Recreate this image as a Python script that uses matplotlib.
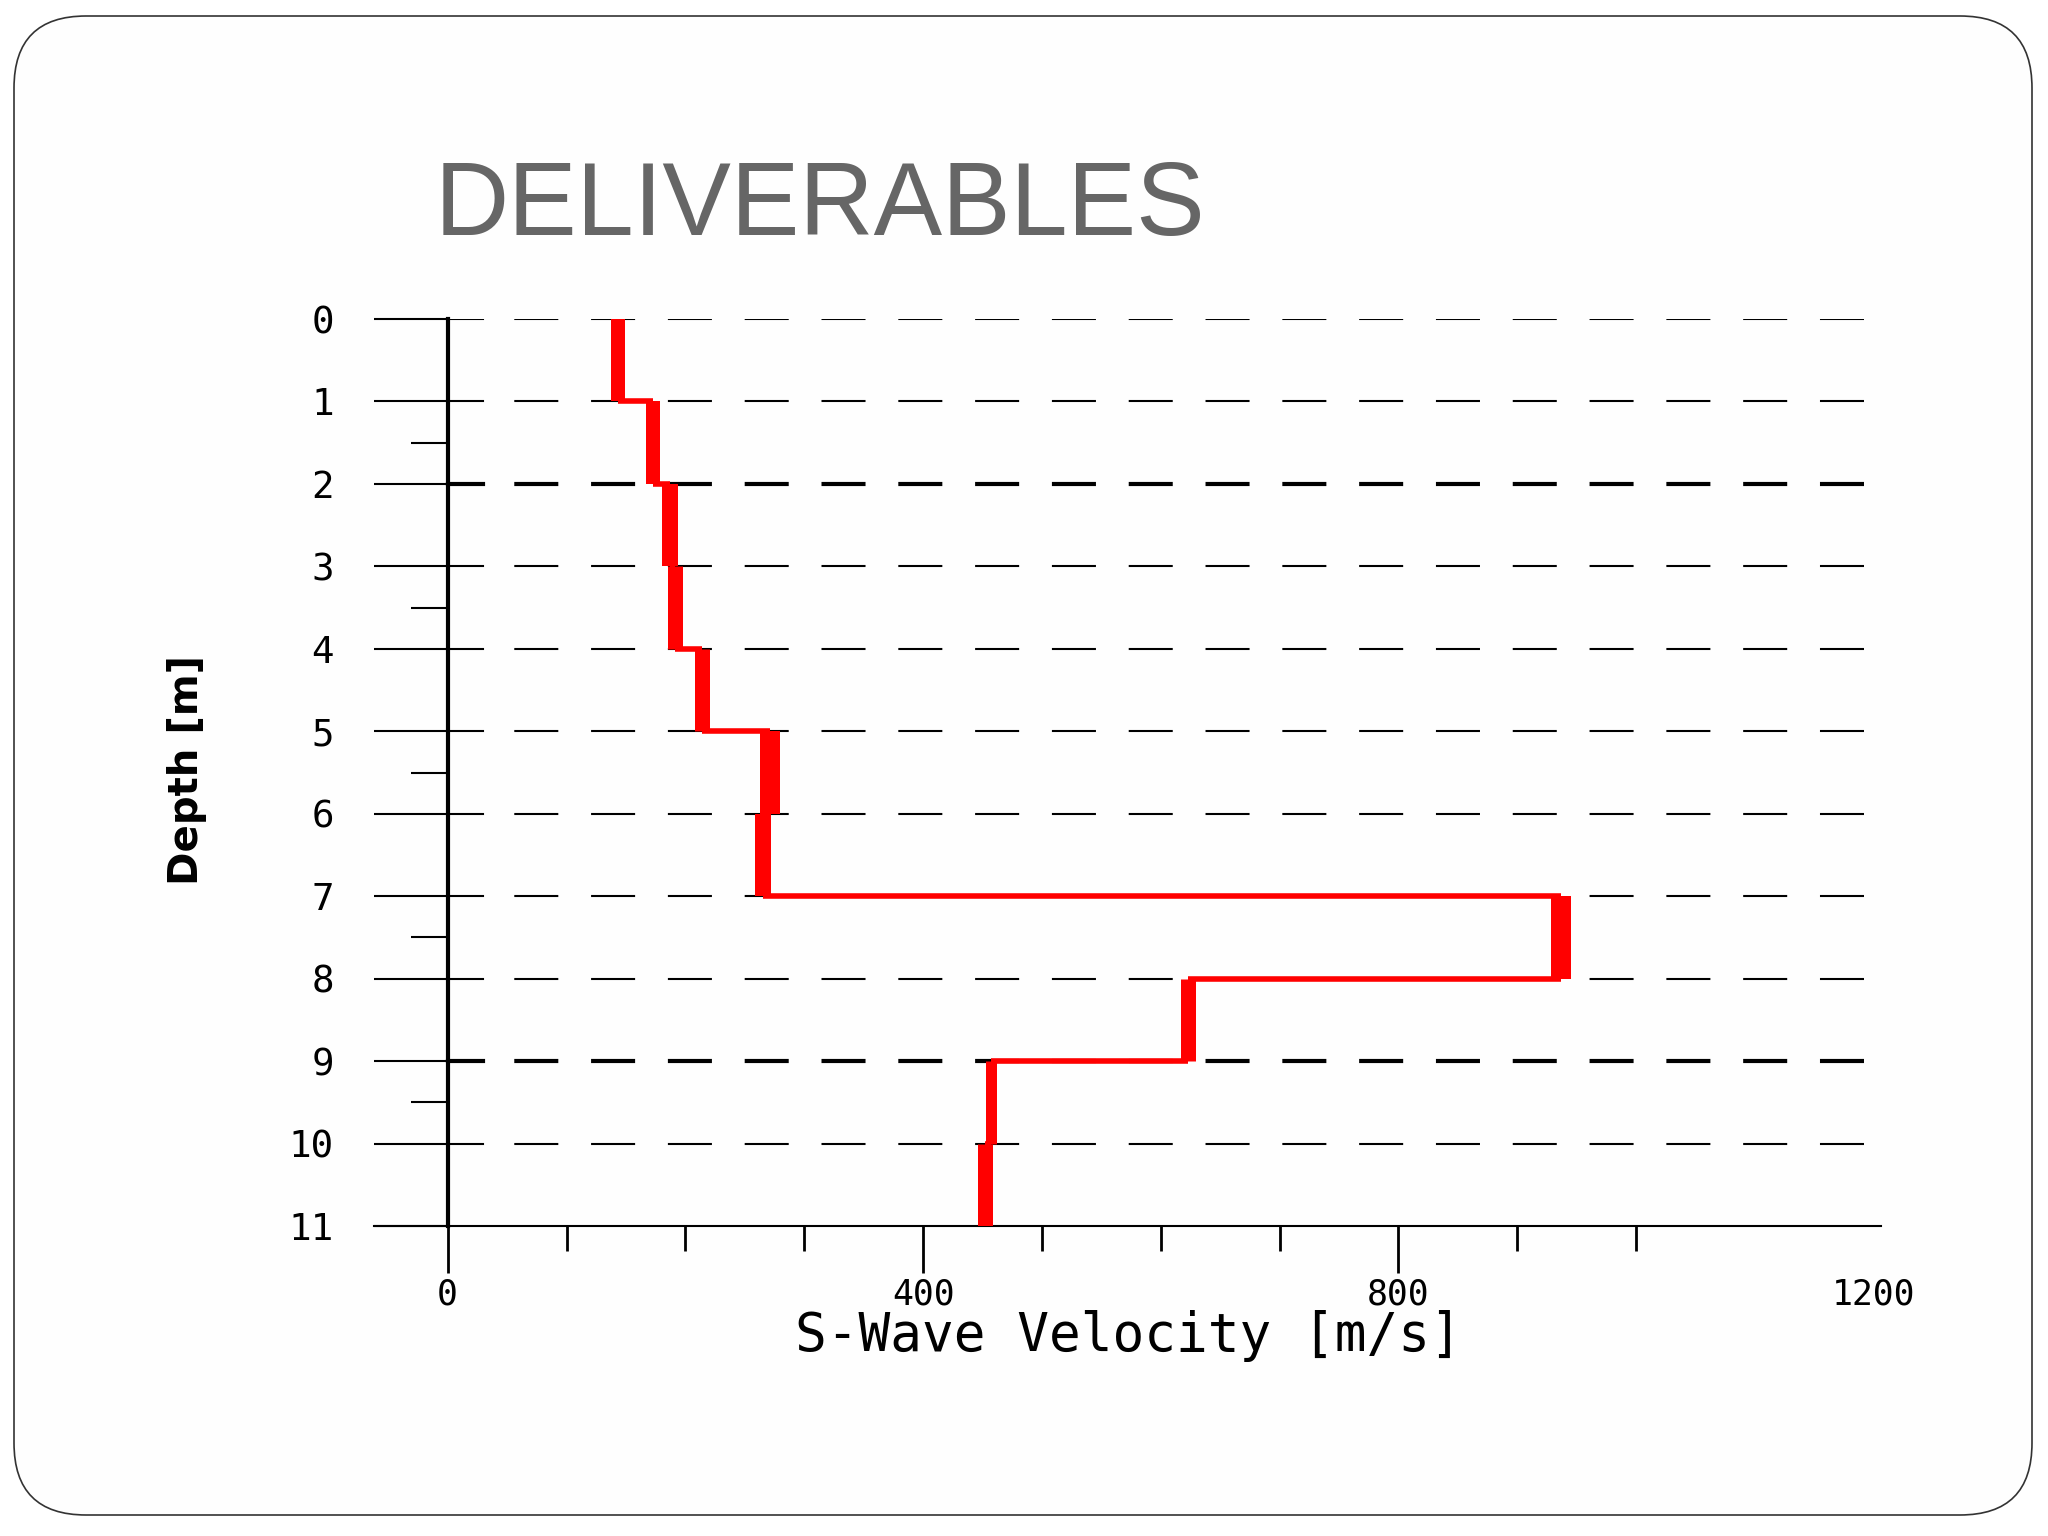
import matplotlib.pyplot as plt
from matplotlib.patches import FancyBboxPatch

# layer data: depth tops / bottoms [m] and S-wave velocity [m/s]
layer_top = [0, 1, 2, 3, 4, 5, 6, 7, 8, 9, 10]
layer_bottom = [1, 2, 3, 4, 5, 6, 7, 8, 9, 10, 11]
vs = [143, 173, 187, 191, 214, 271, 265, 937, 623, 457, 452]
# drawn thickness of each layer's vertical bar (px)
bar_px = [14, 14, 16, 15, 15, 20, 16, 20, 15, 11, 15]

depth_ticks = list(range(0, 12))
depth_minor = [1.5, 3.5, 5.5, 7.5, 9.5]
vel_ticks = [0, 400, 800, 1200]
vel_minor = [100, 200, 300, 500, 600, 700, 900, 1000]
bold_grid = [2, 9]

title = 'DELIVERABLES'
xlabel = 'S-Wave Velocity [m/s]'
ylabel = 'Depth [m]'

W, H = 2048, 1536
fig = plt.figure(figsize=(W / 100, H / 100), dpi=100)
fig.patch.set_facecolor('white')

# slide frame with rounded corners
bg = fig.add_axes([0, 0, 1, 1])
bg.set_xlim(0, W)
bg.set_ylim(H, 0)
bg.axis('off')
bg.add_patch(FancyBboxPatch((14, 16), 2018, 1499,
                            boxstyle='round,pad=0,rounding_size=72',
                            fc='#fefefe', ec='#333333', lw=1.2))

fig.text(435 / W, 1 - 235 / H, title, fontsize=74, color='#666666',
         family=['Liberation Sans', 'DejaVu Sans'], ha='left', va='baseline')

# plot area (px -> figure fraction)
left, right, top, bottom = 374, 1881, 319, 1226
ax = fig.add_axes([left / W, 1 - bottom / H, (right - left) / W, (bottom - top) / H])
ax.patch.set_alpha(0)
ax.set_xlim(-62, 1206)
ax.set_ylim(11, 0)

for s in ['top', 'right']:
    ax.spines[s].set_visible(False)
ax.spines['left'].set_position(('data', 0))
ax.spines['left'].set_linewidth(3)
ax.spines['bottom'].set_linewidth(1.5)

# dashed depth grid, pattern anchored at the right end
for d in depth_ticks[:-1]:
    lw = 3 if d in bold_grid else 1.5
    ax.plot([1192, 30], [d, d], color='black', lw=lw,
            dashes=(31.7 / lw, 23.6 / lw), zorder=1)
    # solid stub of each depth line right of the axis
    ax.plot([0, 30], [d, d], color='black', lw=lw, zorder=1)

ax.set_yticks(depth_ticks)
ax.set_yticks(depth_minor, minor=True)
ax.set_xticks(vel_ticks)
ax.set_xticks(vel_minor, minor=True)
ax.tick_params(axis='y', which='major', length=53, width=1.5, pad=29,
               labelsize=27)
ax.tick_params(axis='y', which='minor', length=27, width=1.5)
ax.tick_params(axis='x', which='major', length=34, width=2, pad=3,
               labelsize=25)
ax.tick_params(axis='x', which='minor', length=18, width=2)
ax.xaxis.get_major_ticks()[-1].tick1line.set_visible(False)
for lab in ax.get_xticklabels() + ax.get_yticklabels():
    lab.set_family('DejaVu Sans Mono')

# velocity profile
pts = [w * 0.72 for w in bar_px]
ax.vlines(vs, layer_top, layer_bottom, colors='#ff0000', linewidths=pts, zorder=3)
ax.hlines(layer_bottom[:-1], vs[:-1], vs[1:], colors='#ff0000', linewidths=4, zorder=3)

fig.text(1128 / W, 1 - 1336 / H, xlabel, fontsize=38, family='DejaVu Sans Mono',
         ha='center', va='center')
fig.text(187 / W, 1 - 770 / H, ylabel, fontsize=29, rotation=90,
         family=['Liberation Sans Narrow', 'DejaVu Sans'], weight='bold',
         ha='center', va='center')

fig.savefig('out.png', dpi=100)
